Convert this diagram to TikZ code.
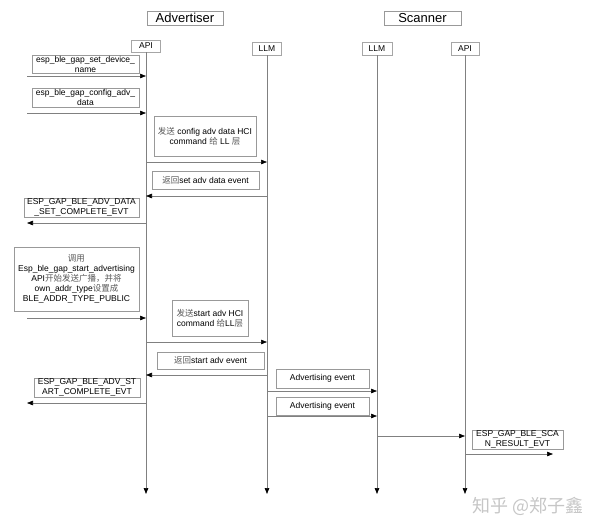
\documentclass[tikz,border=0pt]{standalone}
\usepackage{fontspec}
\setmainfont{Liberation Sans}
\newfontfamily\cjk{Noto Sans CJK SC}
\newcommand{\zh}[1]{{\cjk\color{black!65}#1}}
\usetikzlibrary{arrows.meta}

\begin{document}
\begin{tikzpicture}[x=1pt,y=-1pt,
  title node/.style={draw=gray!80,line width=0.6pt,inner sep=0pt,font=\fontsize{13}{15}\selectfont,minimum height=14pt},
  head node/.style={draw=gray!70,line width=0.6pt,inner sep=0pt,font=\fontsize{8.5}{10}\selectfont,minimum height=12pt},
  msg box/.style={draw=gray!80,line width=0.5pt,inner sep=0pt,align=center,font=\fontsize{8.5}{10}\selectfont},
  life/.style={draw=gray,line width=0.7pt,-{Triangle[length=6pt,width=4.5pt,color=black]}},
  msg/.style={draw=gray,line width=0.6pt,-{Triangle[length=6pt,width=4.5pt,color=black]}}]

  \useasboundingbox (0,0) rectangle (600,531);

  % titles and lifeline heads
  \node[title node,minimum width=76pt] (adv) at (185,18) {Advertiser};
  \node[title node,minimum width=77pt] (scn) at (422.5,18) {Scanner};

  \node[head node,minimum width=29pt] (aapi) at (146,46) {API};
  \node[head node,minimum width=29pt,minimum height=13pt] (allm) at (267,48.5) {LLM};
  \node[head node,minimum width=30pt,minimum height=13pt] (sllm) at (377,48.5) {LLM};
  \node[head node,minimum width=28pt,minimum height=13pt] (sapi) at (465,48.5) {API};

  \coordinate (aapi-end) at (146,494);
  \coordinate (allm-end) at (267,494);
  \coordinate (sllm-end) at (377,494);
  \coordinate (sapi-end) at (465,494);

  \path[life]
   (aapi) edge (aapi-end)
   (allm) edge (allm-end)
   (sllm) edge (sllm-end)
   (sapi) edge (sapi-end);

  % message boxes
  \node[msg box,minimum width=107pt,minimum height=18pt] (m1) at (85.5,64) {esp\_ble\_gap\_set\_device\_\\name};
  \node[msg box,minimum width=107pt,minimum height=19pt] (m2) at (85.5,97.5) {esp\_ble\_gap\_config\_adv\_\\data};
  \node[msg box,minimum width=102pt,minimum height=40pt] (m3) at (205,136) {\zh{发送} config adv data HCI\\command \zh{给} LL \zh{层}};
  \node[msg box,minimum width=107pt,minimum height=18pt] (m4) at (205.5,180) {\zh{返回}set adv data event};
  \node[msg box,minimum width=115pt,minimum height=19pt] (m5) at (81.5,207.5) {ESP\_GAP\_BLE\_ADV\_DATA\\\_SET\_COMPLETE\_EVT};
  \node[msg box,minimum width=125pt,minimum height=64pt] (m6) at (76.5,279) {\zh{调用}\\Esp\_ble\_gap\_start\_advertising\\API\zh{开始发送广播，并将}\\own\_addr\_type\zh{设置成}\\BLE\_ADDR\_TYPE\_PUBLIC};
  \node[msg box,minimum width=76pt,minimum height=36pt] (m7) at (210,318) {\zh{发送}start adv HCI\\command \zh{给}LL\zh{层}};
  \node[msg box,minimum width=107pt,minimum height=17pt] (m8) at (210.5,360.5) {\zh{返回}start adv event};
  \node[msg box,minimum width=106pt,minimum height=19pt] (m9) at (87,387.5) {ESP\_GAP\_BLE\_ADV\_ST\\ART\_COMPLETE\_EVT};
  \node[msg box,minimum width=93pt,minimum height=19pt] (m10) at (322.5,378.5) {Advertising event};
  \node[msg box,minimum width=93pt,minimum height=18pt] (m11) at (322.5,406) {Advertising event};
  \node[msg box,minimum width=91pt,minimum height=19pt] (m12) at (517.5,439.5) {ESP\_GAP\_BLE\_SCA\\N\_RESULT\_EVT};

  % message levels and free ends
  \coordinate (in1) at (27,76);
  \coordinate (in2) at (27,113);
  \coordinate (y3) at (0,162);
  \coordinate (y4) at (0,196);
  \coordinate (out5) at (27,223);
  \coordinate (in6) at (27,318);
  \coordinate (y7) at (0,342);
  \coordinate (y8) at (0,375);
  \coordinate (out9) at (27,403);
  \coordinate (y10) at (0,391);
  \coordinate (y11) at (0,416);
  \coordinate (y12) at (0,436);
  \coordinate (out13) at (553,454);

  % messages
  \draw[msg] (in1) -- (aapi |- in1);
  \draw[msg] (in2) -- (aapi |- in2);
  \draw[msg] (aapi |- y3) -- (allm |- y3);
  \draw[msg] (allm |- y4) -- (aapi |- y4);
  \draw[msg] (aapi |- out5) -- (out5);
  \draw[msg] (in6) -- (aapi |- in6);
  \draw[msg] (aapi |- y7) -- (allm |- y7);
  \draw[msg] (allm |- y8) -- (aapi |- y8);
  \draw[msg] (aapi |- out9) -- (out9);
  \draw[msg] (allm |- y10) -- (sllm |- y10);
  \draw[msg] (allm |- y11) -- (sllm |- y11);
  \draw[msg] (sllm |- y12) -- (sapi |- y12);
  \draw[msg] (sapi |- out13) -- (out13);

  % watermark
  \node[font=\cjk\fontsize{18}{20}\selectfont,text=gray!45] (mark) at (528,506) {知乎 @郑子鑫};
\end{tikzpicture}
\end{document}
